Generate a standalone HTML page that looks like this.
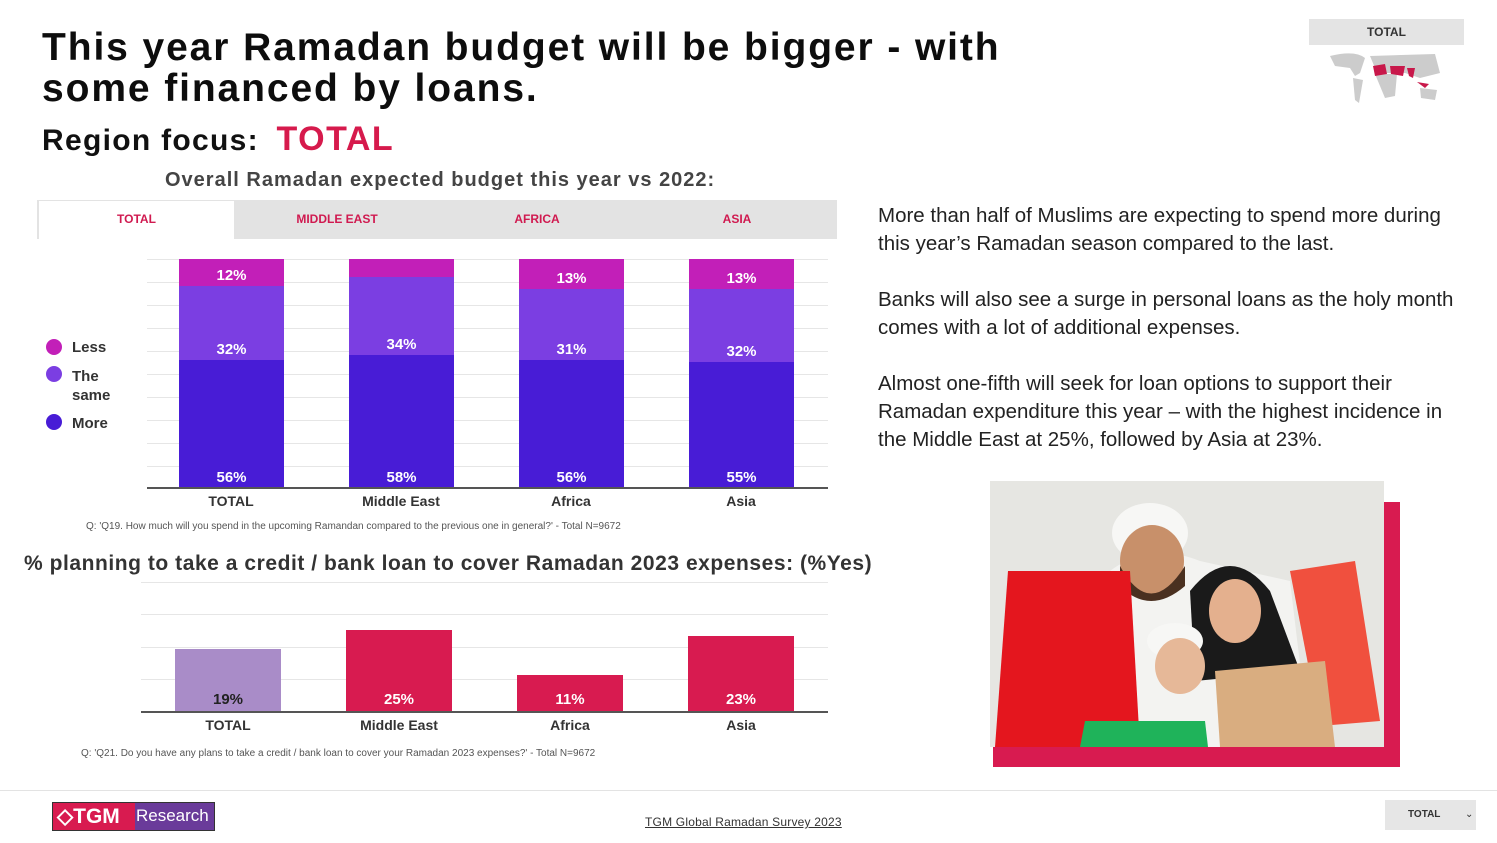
<!DOCTYPE html>
<html><head><meta charset="utf-8"><style>
*{margin:0;padding:0;box-sizing:border-box}
body{width:1497px;height:843px;background:#fff;position:relative;overflow:hidden;font-family:"Liberation Sans",sans-serif;color:#111}
.a{position:absolute;white-space:nowrap}
.h1{font-weight:bold;font-size:39px;line-height:41px;left:42px;top:27px;color:#0d0d0d;letter-spacing:1.9px}
.grid{position:absolute;height:1px;background:#e6e6e6}
.bar{position:absolute}
.lbl{position:absolute;color:#fff;font-weight:bold;font-size:15px;text-align:center;width:105px}
.cat{position:absolute;font-weight:bold;font-size:14px;color:#333;text-align:center;width:140px}
.tab{position:absolute;top:201px;height:37px;font-size:12px;font-weight:bold;color:#d01a50;text-align:center;line-height:37px}
.p{font-size:20.5px;line-height:28px;color:#222;left:878px;white-space:normal;width:582px}
</style></head><body>
<div class="a h1">This year Ramadan budget will be bigger - with<br>some financed by loans.</div>
<div class="a" style="left:42px;top:120px;font-size:30px;font-weight:bold;letter-spacing:1.3px">Region focus: <span style="color:#d61a4c;font-size:34px;margin-left:8px;letter-spacing:1.5px">TOTAL</span></div>
<div class="a" style="left:165px;top:169px;font-size:20px;font-weight:bold;color:#444;letter-spacing:1px">Overall Ramadan expected budget this year vs 2022:</div>

<div class="a" style="left:37px;top:200px;width:800px;height:39px;background:#e3e3e3"></div>
<div class="tab" style="left:39px;width:195px;background:#fff;height:38px">TOTAL</div>
<div class="tab" style="left:237px;width:200px">MIDDLE EAST</div>
<div class="tab" style="left:437px;width:200px">AFRICA</div>
<div class="tab" style="left:637px;width:200px">ASIA</div>

<div class="grid" style="left:147px;top:259px;width:681px"></div>
<div class="grid" style="left:147px;top:282px;width:681px"></div>
<div class="grid" style="left:147px;top:305px;width:681px"></div>
<div class="grid" style="left:147px;top:328px;width:681px"></div>
<div class="grid" style="left:147px;top:351px;width:681px"></div>
<div class="grid" style="left:147px;top:374px;width:681px"></div>
<div class="grid" style="left:147px;top:397px;width:681px"></div>
<div class="grid" style="left:147px;top:420px;width:681px"></div>
<div class="grid" style="left:147px;top:443px;width:681px"></div>
<div class="grid" style="left:147px;top:466px;width:681px"></div>

<div class="bar" style="left:179px;top:259px;width:105px;height:27px;background:#c21fb8"></div>
<div class="bar" style="left:179px;top:286px;width:105px;height:74px;background:#7b3ee2"></div>
<div class="bar" style="left:179px;top:360px;width:105px;height:128px;background:#481cd6"></div>
<div class="bar" style="left:349px;top:259px;width:105px;height:18px;background:#c21fb8"></div>
<div class="bar" style="left:349px;top:277px;width:105px;height:78px;background:#7b3ee2"></div>
<div class="bar" style="left:349px;top:355px;width:105px;height:133px;background:#481cd6"></div>
<div class="bar" style="left:519px;top:259px;width:105px;height:30px;background:#c21fb8"></div>
<div class="bar" style="left:519px;top:289px;width:105px;height:71px;background:#7b3ee2"></div>
<div class="bar" style="left:519px;top:360px;width:105px;height:128px;background:#481cd6"></div>
<div class="bar" style="left:689px;top:259px;width:105px;height:30px;background:#c21fb8"></div>
<div class="bar" style="left:689px;top:289px;width:105px;height:73px;background:#7b3ee2"></div>
<div class="bar" style="left:689px;top:362px;width:105px;height:126px;background:#481cd6"></div>
<div class="a" style="left:147px;top:487px;width:681px;height:2px;background:#555"></div>

<div class="lbl" style="left:179px;top:267px">12%</div>
<div class="lbl" style="left:179px;top:341px">32%</div>
<div class="lbl" style="left:179px;top:469px">56%</div>
<div class="lbl" style="left:349px;top:336px">34%</div>
<div class="lbl" style="left:349px;top:469px">58%</div>
<div class="lbl" style="left:519px;top:270px">13%</div>
<div class="lbl" style="left:519px;top:341px">31%</div>
<div class="lbl" style="left:519px;top:469px">56%</div>
<div class="lbl" style="left:689px;top:270px">13%</div>
<div class="lbl" style="left:689px;top:343px">32%</div>
<div class="lbl" style="left:689px;top:469px">55%</div>

<div class="cat" style="left:161px;top:493px">TOTAL</div>
<div class="cat" style="left:331px;top:493px">Middle East</div>
<div class="cat" style="left:501px;top:493px">Africa</div>
<div class="cat" style="left:671px;top:493px">Asia</div>

<div class="a" style="left:46px;top:339px;width:16px;height:16px;border-radius:50%;background:#c21fb8"></div>
<div class="a" style="left:72px;top:339px;font-size:15px;font-weight:bold;color:#333">Less</div>
<div class="a" style="left:46px;top:366px;width:16px;height:16px;border-radius:50%;background:#7b3ee2"></div>
<div class="a" style="left:72px;top:367px;font-size:15px;font-weight:bold;color:#333;line-height:19px">The<br>same</div>
<div class="a" style="left:46px;top:414px;width:16px;height:16px;border-radius:50%;background:#481cd6"></div>
<div class="a" style="left:72px;top:415px;font-size:15px;font-weight:bold;color:#333">More</div>

<div class="a" style="left:86px;top:521px;font-size:10px;color:#555">Q: 'Q19. How much will you spend in the upcoming Ramandan compared to the previous one in general?' - Total N=9672</div>

<div class="a" style="left:24px;top:552px;font-size:21px;font-weight:bold;color:#333;letter-spacing:0.55px">% planning to take a credit / bank loan to cover Ramadan 2023 expenses: (%Yes)</div>

<div class="grid" style="left:141px;top:582px;width:687px"></div>
<div class="grid" style="left:141px;top:614px;width:687px"></div>
<div class="grid" style="left:141px;top:647px;width:687px"></div>
<div class="grid" style="left:141px;top:679px;width:687px"></div>
<div class="bar" style="left:175px;top:649px;width:106px;height:63px;background:#a98cc8"></div>
<div class="bar" style="left:346px;top:630px;width:106px;height:82px;background:#d81b50"></div>
<div class="bar" style="left:517px;top:675px;width:106px;height:37px;background:#d81b50"></div>
<div class="bar" style="left:688px;top:636px;width:106px;height:76px;background:#d81b50"></div>
<div class="a" style="left:141px;top:711px;width:687px;height:2px;background:#555"></div>
<div class="lbl" style="left:175px;top:691px;color:#222;width:106px">19%</div>
<div class="lbl" style="left:346px;top:691px;width:106px">25%</div>
<div class="lbl" style="left:517px;top:691px;width:106px">11%</div>
<div class="lbl" style="left:688px;top:691px;width:106px">23%</div>
<div class="cat" style="left:158px;top:717px">TOTAL</div>
<div class="cat" style="left:329px;top:717px">Middle East</div>
<div class="cat" style="left:500px;top:717px">Africa</div>
<div class="cat" style="left:671px;top:717px">Asia</div>
<div class="a" style="left:81px;top:748px;font-size:10px;color:#555">Q: 'Q21. Do you have any plans to take a credit / bank loan to cover your Ramadan 2023 expenses?' - Total N=9672</div>

<div class="a p" style="top:202px">More than half of Muslims are expecting to spend more during this year’s Ramadan season compared to the last.</div>
<div class="a p" style="top:286px">Banks will also see a surge in personal loans as the holy month comes with a lot of additional expenses.</div>
<div class="a p" style="top:370px">Almost one-fifth will seek for loan options to support their Ramadan expenditure this year – with the highest incidence in the Middle East at 25%, followed by Asia at 23%.</div>

<div class="a" style="left:993px;top:502px;width:407px;height:265px;background:#d81b50"></div>
<svg class="a" style="left:990px;top:481px" width="394" height="266" viewBox="0 0 394 266">
<rect width="394" height="266" fill="#e6e6e2"/>
<path d="M120 90 Q160 60 210 80 L300 100 L320 266 L110 266 Z" fill="#f3f3f1"/>
<ellipse cx="160" cy="52" rx="38" ry="30" fill="#f7f7f5"/>
<ellipse cx="162" cy="80" rx="32" ry="36" fill="#c8906a"/>
<path d="M130 85 Q160 140 195 85 L195 105 Q160 135 130 105Z" fill="#4a3020"/>
<path d="M200 110 Q240 60 280 110 L310 190 L205 200 Z" fill="#1a1a1a"/>
<ellipse cx="245" cy="130" rx="26" ry="32" fill="#e4b08e"/>
<ellipse cx="185" cy="160" rx="28" ry="18" fill="#f7f7f5"/>
<ellipse cx="190" cy="185" rx="25" ry="28" fill="#e6b898"/>
<path d="M18 90 L140 90 L150 266 L5 266 Z" fill="#e4161e"/>
<path d="M300 90 L365 80 L390 240 L330 245 Z" fill="#f0503e"/>
<path d="M225 190 L335 180 L345 266 L230 266 Z" fill="#d9ad80"/>
<path d="M95 240 L215 240 L218 266 L90 266 Z" fill="#1fb35a"/>
</svg>

<div class="a" style="left:1309px;top:19px;width:155px;height:26px;background:#e4e4e4;font-size:12px;font-weight:bold;color:#333;text-align:center;line-height:26px">TOTAL</div>
<svg class="a" style="left:1325px;top:48px" width="120" height="58">
<path d="M5 8 Q30 2 40 10 L35 25 L30 28 L25 20 L10 18Z" fill="#ccc"/>
<path d="M28 30 L38 32 L34 55 L30 52Z" fill="#ccc"/>
<path d="M45 8 L110 6 L115 25 L95 30 L80 25 L60 25 L50 20Z" fill="#ccc"/>
<path d="M50 26 L72 26 L70 48 L60 50Z" fill="#ccc"/>
<path d="M95 40 L112 42 L110 52 L96 50Z" fill="#ccc"/>
<path d="M48 18 L60 16 L62 26 L50 28Z" fill="#c8184a"/>
<path d="M65 18 L80 18 L78 28 L66 26Z" fill="#c8184a"/>
<path d="M82 20 L90 20 L88 30 L84 28Z" fill="#c8184a"/>
<path d="M92 34 L104 36 L100 40Z" fill="#c8184a"/>
</svg>

<div class="a" style="left:0;top:790px;width:1497px;height:1px;background:#e3e3e3"></div>
<div class="a" style="left:52px;top:802px;width:163px;height:29px;background:#6a3b9a;border:1px solid #333"></div>
<div class="a" style="left:53px;top:803px;width:82px;height:27px;background:#d81b50;color:#fff;font-weight:bold;font-size:21px;line-height:27px;padding-left:4px">◇TGM</div>
<div class="a" style="left:136px;top:806px;color:#fff;font-size:17px">Research</div>
<div class="a" style="left:645px;top:815px;font-size:12px;color:#333;text-decoration:underline;letter-spacing:0.2px">TGM Global Ramadan Survey 2023</div>
<div class="a" style="left:1385px;top:800px;width:91px;height:30px;background:#e6e6e6;font-size:10px;font-weight:bold;color:#333;line-height:30px;padding-left:23px">TOTAL <span style="margin-left:22px;font-weight:normal">⌄</span></div>
</body></html>
